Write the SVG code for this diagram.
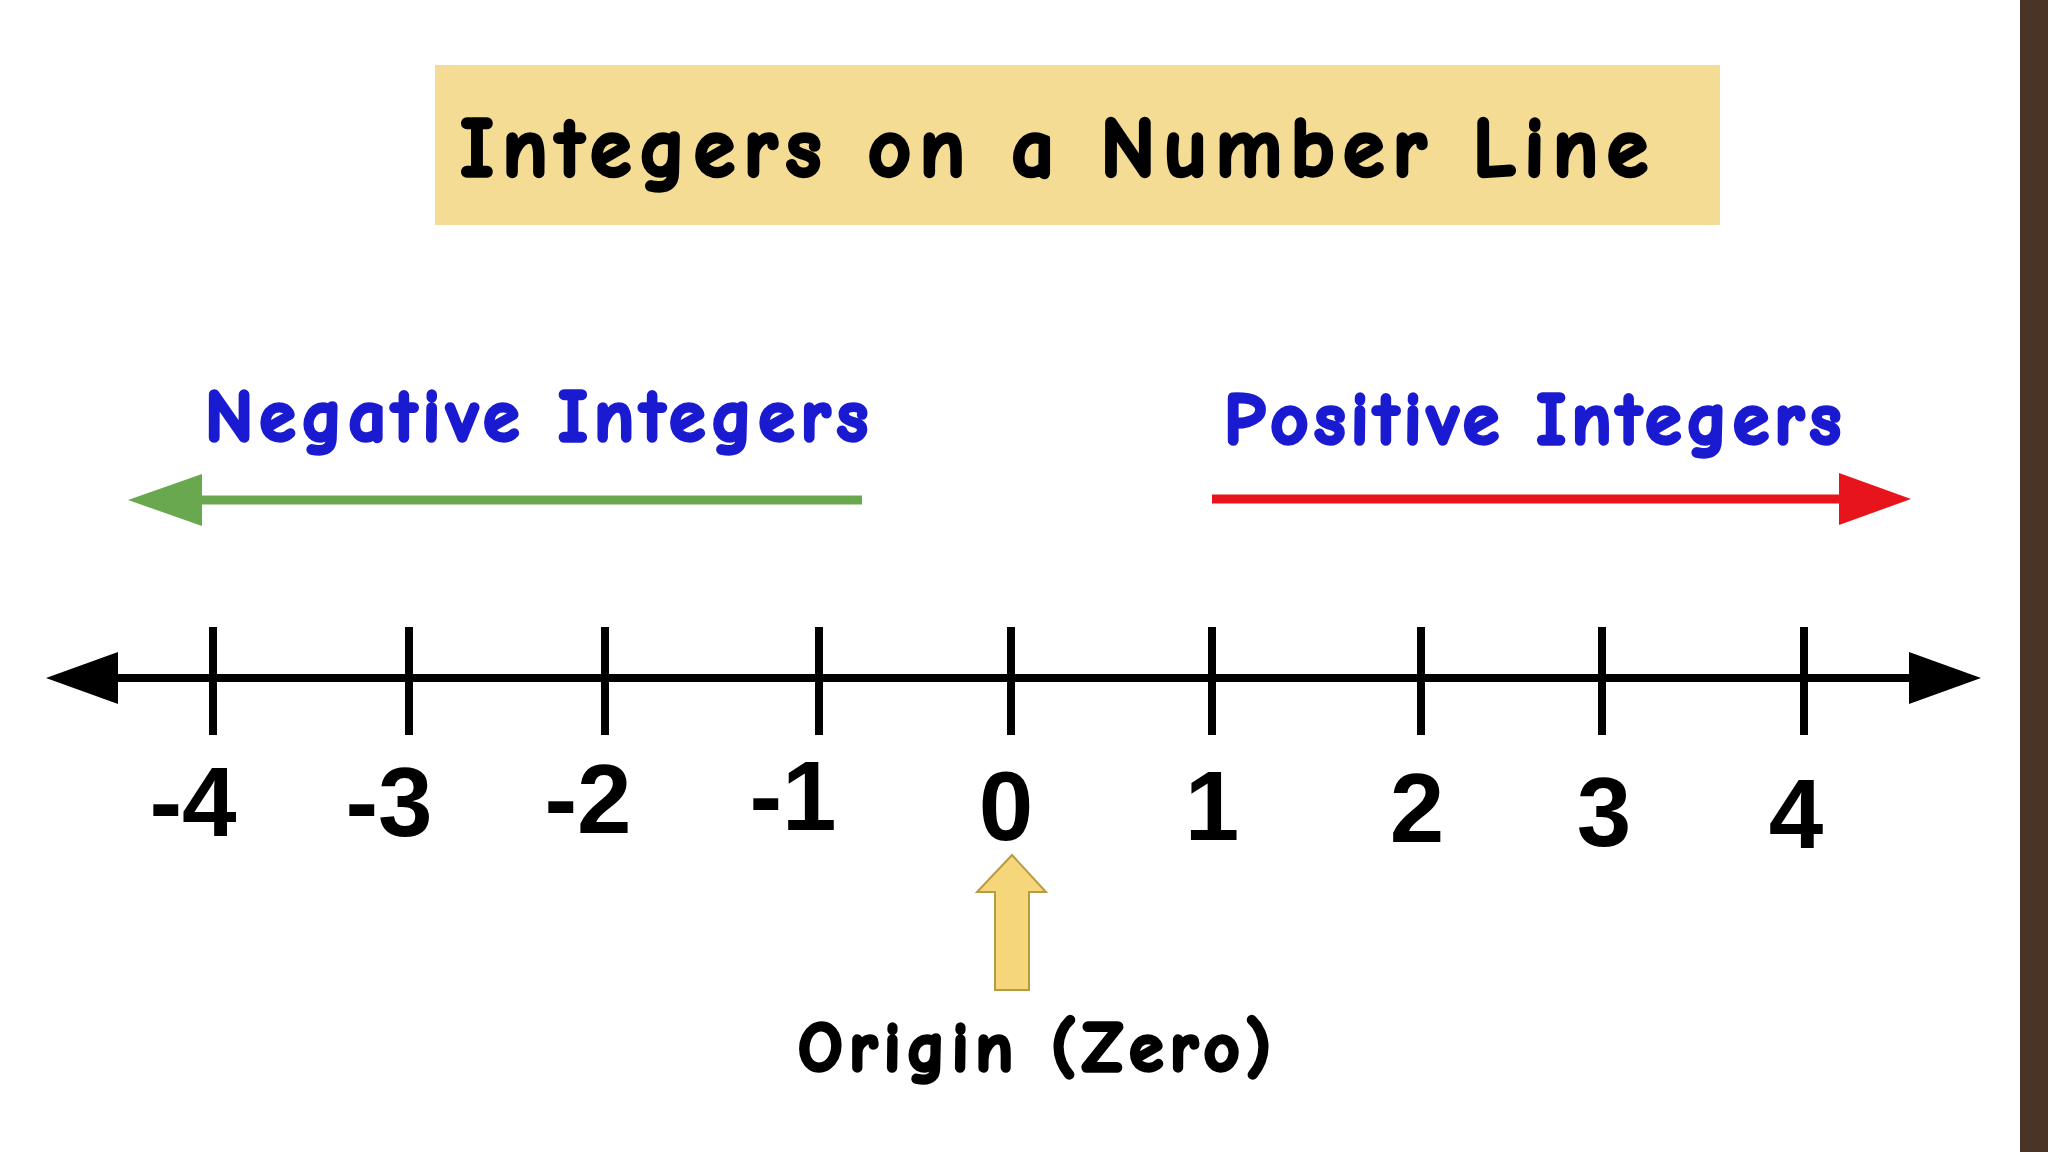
<svg xmlns="http://www.w3.org/2000/svg" width="2048" height="1152" viewBox="0 0 2048 1152">
<style>
.t{font-family:"Comic Neue","Noto Sans",sans-serif;font-weight:bold;stroke-width:3.5;stroke-linejoin:round}
.n{font-family:"Liberation Sans",Arial,sans-serif;font-weight:bold;font-size:98px;text-anchor:middle;fill:#000}
.tick{stroke:#000;stroke-width:8}
</style>
<rect width="2048" height="1152" fill="#fff"/>
<rect x="2020" y="0" width="28" height="1152" fill="#4a3425"/>
<g id="title"><rect x="435" y="65" width="1285" height="160" fill="#f4dc95"/>
<text class="t" x="460" y="176" font-size="84" textLength="1188" fill="#000" stroke="#000">Integers on a Number Line</text></g>
<g id="neg"><text class="t" x="205" y="441" font-size="74" textLength="663" fill="#1a1ad0" stroke="#1a1ad0">Negative Integers</text></g>
<g id="pos"><text class="t" x="1224" y="444" font-size="74" textLength="617" fill="#1a1ad0" stroke="#1a1ad0">Positive Integers</text></g>
<g id="connectors">
<line x1="862" y1="500" x2="200" y2="500" stroke="#6aa84f" stroke-width="9"/>
<polygon points="128,500 202,474 202,526" fill="#6aa84f"/>
<line x1="1212" y1="499" x2="1842" y2="499" stroke="#e8141c" stroke-width="9"/>
<polygon points="1911,499 1839,473 1839,525" fill="#e8141c"/>
<line x1="110" y1="678" x2="1915" y2="678" stroke="#000" stroke-width="8"/>
<polygon points="46,678 118,652 118,704" fill="#000"/>
<polygon points="1981,678 1909,652 1909,704" fill="#000"/>
</g>
<g id="ticks">
<line class="tick" x1="213" y1="627" x2="213" y2="735"/>
<line class="tick" x1="409" y1="627" x2="409" y2="735"/>
<line class="tick" x1="605" y1="627" x2="605" y2="735"/>
<line class="tick" x1="819" y1="627" x2="819" y2="735"/>
<line class="tick" x1="1011" y1="627" x2="1011" y2="735"/>
<line class="tick" x1="1212" y1="627" x2="1212" y2="735"/>
<line class="tick" x1="1421" y1="627" x2="1421" y2="735"/>
<line class="tick" x1="1602" y1="627" x2="1602" y2="735"/>
<line class="tick" x1="1804" y1="627" x2="1804" y2="735"/>
</g>
<g id="labels">
<text class="n" x="193" y="836">-4</text>
<text class="n" x="389" y="836">-3</text>
<text class="n" x="588" y="833">-2</text>
<text class="n" x="793" y="830">-1</text>
<text class="n" x="1006" y="840">0</text>
<text class="n" x="1212" y="840">1</text>
<text class="n" x="1417" y="842">2</text>
<text class="n" x="1604" y="846">3</text>
<text class="n" x="1796" y="848">4</text>
</g>
<g id="origin">
<polygon points="1012,855 1046,892 1029,892 1029,990 995,990 995,892 977,892" fill="#f5d67a" stroke="#b89a40" stroke-width="2"/>
<text class="t" x="798" y="1071" font-size="70" textLength="473" fill="#000" stroke="#000">Origin (Zero)</text>
</g>
</svg>
